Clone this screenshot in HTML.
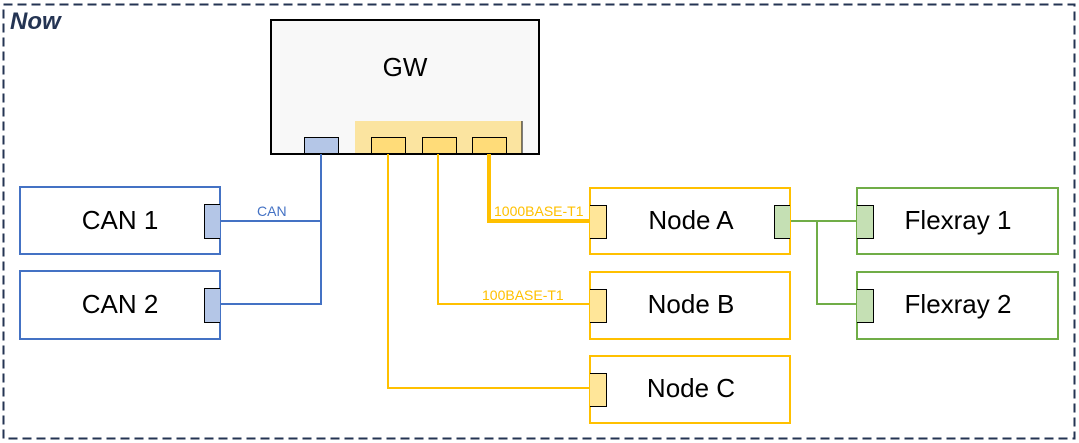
<!DOCTYPE html>
<html><head><meta charset="utf-8"><style>
body{margin:0;background:#fff;}
svg{display:block;font-family:"Liberation Sans","DejaVu Sans",sans-serif;}
</style></head><body>
<svg width="1079" height="443" viewBox="0 0 1079 443">
<rect x="3.5" y="4.5" width="1071" height="434" fill="none" stroke="#243453" stroke-width="2" stroke-dasharray="9,5"/>
<text x="10" y="29" font-size="24" font-weight="bold" font-style="italic" fill="#243453">Now</text>
<!-- GW -->
<rect x="271" y="20" width="268" height="134" fill="#f8f8f8" stroke="#000" stroke-width="2"/>
<text x="405" y="76" font-size="26" text-anchor="middle">GW</text>
<rect x="355" y="121" width="167" height="32" fill="#fbe4a0"/>
<line x1="522" y1="121" x2="522" y2="153" stroke="#000"/>
<rect x="304.5" y="137.5" width="34" height="16" fill="#b4c6e7" stroke="#000"/>
<rect x="371.5" y="137.5" width="34" height="16" fill="#ffdc79" stroke="#000"/>
<rect x="422.5" y="137.5" width="34" height="16" fill="#ffdc79" stroke="#000"/>
<rect x="472.5" y="137.5" width="34" height="16" fill="#ffdc79" stroke="#000"/>
<!-- lines -->
<g fill="none" stroke="#4472c4" stroke-width="2">
<path d="M321 154V304H220M220 221H321"/>
</g>
<text x="257" y="216" font-size="14" fill="#4472c4">CAN</text>
<g fill="none" stroke="#ffc000" stroke-width="2">
<path d="M388 154V388H590M438 154V304H590"/>
</g>
<path d="M489 154V221H590" fill="none" stroke="#ffc000" stroke-width="4"/>
<text x="494" y="216" font-size="14" fill="#ffc000">1000BASE-T1</text>
<text x="482" y="300" font-size="14" fill="#ffc000">100BASE-T1</text>
<path d="M790 221H857M817 221V304H857" fill="none" stroke="#70ad47" stroke-width="2"/>
<!-- CAN boxes -->
<g stroke="#4472c4" stroke-width="2" fill="#fff">
<rect x="20" y="187" width="200" height="67"/>
<rect x="20" y="271" width="200" height="68"/>
</g>
<g font-size="26" text-anchor="middle">
<text x="120" y="229">CAN 1</text>
<text x="120" y="313">CAN 2</text>
</g>
<g fill="#b4c6e7" stroke="#000"><path d="M220 204.5H204.5V238.5H220"/><path d="M220 288.5H204.5V322.5H220"/></g>
<!-- Node boxes -->
<g stroke="#ffc000" stroke-width="2" fill="#fff">
<rect x="590" y="188" width="200" height="66"/>
<rect x="590" y="272" width="200" height="67"/>
<rect x="590" y="356" width="200" height="67"/>
</g>
<g font-size="26" text-anchor="middle">
<text x="691" y="229">Node A</text>
<text x="691" y="313">Node B</text>
<text x="691" y="397">Node C</text>
</g>
<g fill="#ffe699" stroke="#000">
<path d="M590 205.5H606.5V238.5H590"/>
<path d="M590 289.5H606.5V322.5H590"/>
<path d="M590 373.5H606.5V406.5H590"/>
</g>
<path d="M790 205.5H774.5V238.5H790" fill="#c5e0b4" stroke="#000"/>
<!-- Flexray -->
<g stroke="#70ad47" stroke-width="2" fill="#fff">
<rect x="857" y="188" width="201" height="66"/>
<rect x="857" y="272" width="201" height="67"/>
</g>
<g font-size="26" text-anchor="middle">
<text x="958" y="229">Flexray 1</text>
<text x="958" y="313">Flexray 2</text>
</g>
<g fill="#c5e0b4" stroke="#000">
<path d="M857 205.5H873.5V238.5H857"/>
<path d="M857 289.5H873.5V322.5H857"/>
</g>
</svg>
</body></html>
